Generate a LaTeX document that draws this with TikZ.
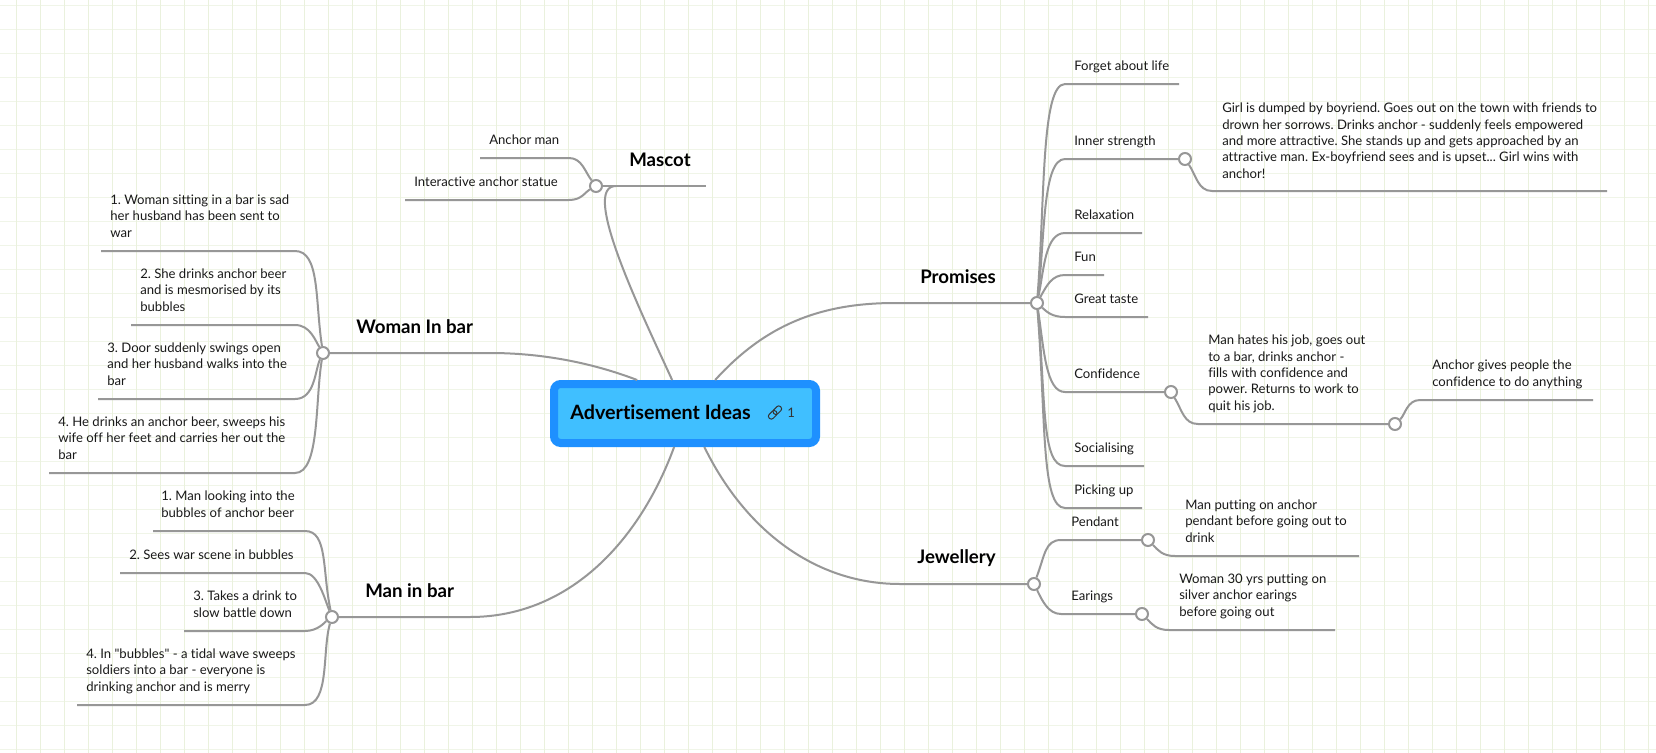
\documentclass[tikz,border=0pt]{standalone}
\usepackage{fontspec}
\setmainfont{Lato}[Ligatures={TeXOff,NoCommon}]
\frenchspacing
\definecolor{gridv}{HTML}{EAF1DD}
\definecolor{gridh}{HTML}{F0F5E8}
\definecolor{branchgray}{HTML}{979797}
\definecolor{centerblue}{HTML}{1E90FF}
\definecolor{centerfill}{HTML}{40BFFF}
\tikzset{
	branch/.style={draw=branchgray,line width=1.5pt},
	joint/.style={circle,draw=branchgray,fill=white,line width=1.5pt,inner sep=0pt,minimum size=9pt},
	leaf/.style={anchor=base west,inner sep=0pt,align=left,text=black!90,font=\fontsize{9.85pt}{12.2pt}\selectfont},
	topic/.style={anchor=base west,inner sep=0pt,text=black,font=\fontsize{14pt}{16pt}\selectfont\bfseries}
}
\begin{document}
\begin{tikzpicture}[x=0.75pt,y=-0.75pt]
\useasboundingbox (0,0) rectangle (1656,753);
\fill[white] (0,0) rectangle (1656,753);
\foreach \i in {0,...,31}{
	\draw[gridh,line width=0.75pt] (0,5.3+24*\i) -- (1656,5.3+24*\i);
	}
\foreach \i in {0,...,68}{
	\draw[gridv,line width=0.75pt] (16.5+24*\i,0) -- (16.5+24*\i,753);
	}

\node[rectangle,draw=centerblue,fill=centerfill,line width=6pt,rounded corners=5pt,minimum width=196.5pt,minimum height=44.25pt] (center) at (685,413.5) {};
\node[topic,font=\fontsize{14.8pt}{16pt}\selectfont\bfseries] (centertext) at (570,419) {Advertisement Ideas};
\node[leaf,text=black!80] (linknum) at (787,417) {1};
\begin{scope}[shift={(775,412.5)},rotate=45,black!80,line width=0.75pt,rounded corners=1.8pt]
\draw (-8,-2.8) rectangle (1.5,2.8);
\draw (-1.5,-2.8) rectangle (8,2.8);
\end{scope}

% joints
\node[joint] (mas) at (596,186) {};
\node[joint] (wo) at (323,353) {};
\node[joint] (man) at (332,617) {};
\node[joint] (pro) at (1037,303) {};
\node[joint] (jew) at (1034,584) {};
\node[joint] (inner) at (1185,159) {};
\node[joint] (conf) at (1171,392) {};
\node[joint] (hates) at (1395,424) {};
\node[joint] (pend) at (1148,540) {};
\node[joint] (ear) at (1142,614) {};

% main branches
\coordinate (masend) at (706,186);
\draw[branch] (center.111) .. controls (640,310) and (580,186) .. (616,186);
\draw[branch] (mas) -- (masend);
\draw[branch] (center.145) .. controls (590,362) and (540,353) .. (490,353) -- (wo);
\draw[branch] (center.252) .. controls (640,540) and (570,617) .. (470,617) -- (man);
\draw[branch] (center.48) .. controls (765,325) and (820,303) .. (895,303) -- (pro);
\draw[branch] (center.300) .. controls (745,530) and (815,584) .. (900,584) -- (jew);
\node[topic] (mascot) at (629,166) {Mascot};
\node[topic] (woman) at (356,333) {Woman In bar};
\node[topic] (manbar) at (365,597) {Man in bar};
\node[topic] (promises) at (920,283) {Promises};
\node[topic] (jewellery) at (917,563) {Jewellery};

% mascot
\node[leaf] (anchorman) at (489,144) {Anchor man};
\coordinate (anchormanend) at (480,158);
\draw[branch] (mas) .. controls (585,172) and (582,158) .. (569,158) -- (anchormanend);
\node[leaf] (statue) at (414,186) {Interactive anchor statue};
\coordinate (statueend) at (405,200);
\draw[branch] (mas) .. controls (585,192) and (582,200) .. (569,200) -- (statueend);

% woman in bar
\node[leaf] (wo1) at (110,237) {1. Woman sitting in a bar is sad\\her husband has been sent to\\war};
\coordinate (wo1end) at (101,251);
\draw[branch] (wo) .. controls (315,300) and (320,251) .. (295,251) -- (wo1end);
\node[leaf] (wo2) at (140,311) {2. She drinks anchor beer\\and is mesmorised by its\\bubbles};
\coordinate (wo2end) at (131,325);
\draw[branch] (wo) .. controls (315,340) and (310,325) .. (295,325) -- (wo2end);
\node[leaf] (wo3) at (107,385) {3. Door suddenly swings open\\and her husband walks into the\\bar};
\coordinate (wo3end) at (98,399);
\draw[branch] (wo) .. controls (315,370) and (315,399) .. (295,399) -- (wo3end);
\node[leaf] (wo4) at (58,459) {4. He drinks an anchor beer, sweeps his\\wife off her feet and carries her out the\\bar};
\coordinate (wo4end) at (49,473);
\draw[branch] (wo) .. controls (315,400) and (320,473) .. (295,473) -- (wo4end);

% man in bar
\node[leaf] (man1) at (161,517) {1. Man looking into the\\bubbles of anchor beer};
\coordinate (man1end) at (153,531);
\draw[branch] (man) .. controls (322,570) and (328,531) .. (305,531) -- (man1end);
\node[leaf] (man2) at (129,559) {2. Sees war scene in bubbles};
\coordinate (man2end) at (120,573);
\draw[branch] (man) .. controls (325,600) and (318,573) .. (305,573) -- (man2end);
\node[leaf] (man3) at (193,617) {3. Takes a drink to\\slow battle down};
\coordinate (man3end) at (184,631);
\draw[branch] (man) .. controls (325,622) and (318,631) .. (305,631) -- (man3end);
\node[leaf] (man4) at (86,691) {4. In "bubbles" - a tidal wave sweeps\\soldiers into a bar - everyone is\\drinking anchor and is merry};
\coordinate (man4end) at (77,705);
\draw[branch] (man) .. controls (322,650) and (330,705) .. (305,705) -- (man4end);

% promises
\node[leaf] (forget) at (1074,70) {Forget about life};
\coordinate (forgetend) at (1179,84);
\draw[branch] (pro) .. controls (1045,200) and (1041,84) .. (1065,84) -- (forgetend);
\node[leaf] (strength) at (1074,145) {Inner strength};
\draw[branch] (pro) .. controls (1045,240) and (1042,159) .. (1065,159) -- (inner);
\node[leaf] (girl) at (1222,178) {Girl is dumped by boyriend. Goes out on the town with friends to\\drown her sorrows. Drinks anchor - suddenly feels empowered\\and more attractive. She stands up and gets approached by an\\attractive man. Ex-boyfriend sees and is upset... Girl wins with\\anchor!};
\coordinate (girlend) at (1607,191);
\draw[branch] (inner) .. controls (1196,175) and (1198,191) .. (1212,191) -- (girlend);
\node[leaf] (relax) at (1074,219) {Relaxation};
\coordinate (relaxend) at (1142,233);
\draw[branch] (pro) .. controls (1044,270) and (1045,233) .. (1065,233) -- (relaxend);
\node[leaf] (fun) at (1074,261) {Fun};
\coordinate (funend) at (1104,275);
\draw[branch] (pro) .. controls (1047,285) and (1052,275) .. (1065,275) -- (funend);
\node[leaf] (taste) at (1074,303) {Great taste};
\coordinate (tasteend) at (1148,317);
\draw[branch] (pro) .. controls (1047,312) and (1052,317) .. (1065,317) -- (tasteend);
\node[leaf] (confidence) at (1074,378) {Confidence};
\draw[branch] (pro) .. controls (1044,350) and (1046,392) .. (1065,392) -- (conf);
\node[leaf] (hatestext) at (1208,410) {Man hates his job, goes out\\to a bar, drinks anchor -\\fills with confidence and\\power. Returns to work to\\quit his job.};
\draw[branch] (conf) .. controls (1182,410) and (1184,424) .. (1198,424) -- (hates);
\node[leaf] (gives) at (1432,386) {Anchor gives people the\\confidence to do anything};
\coordinate (givesend) at (1593,400);
\draw[branch] (hates) .. controls (1405,415) and (1407,400) .. (1420,400) -- (givesend);
\node[leaf] (social) at (1074,452) {Socialising};
\coordinate (socialend) at (1144,466);
\draw[branch] (pro) .. controls (1046,400) and (1041,466) .. (1065,466) -- (socialend);
\node[leaf] (picking) at (1074,494) {Picking up};
\coordinate (pickingend) at (1142,508);
\draw[branch] (pro) .. controls (1046,420) and (1041,508) .. (1065,508) -- (pickingend);

% jewellery
\node[leaf] (pendant) at (1071,526) {Pendant};
\draw[branch] (jew) .. controls (1045,555) and (1045,540) .. (1061,540) -- (pend);
\node[leaf] (puton) at (1185,542) {Man putting on anchor\\pendant before going out to\\drink};
\coordinate (putonend) at (1359,556);
\draw[branch] (pend) .. controls (1158,550) and (1162,556) .. (1175,556) -- (putonend);
\node[leaf] (earings) at (1071,600) {Earings};
\draw[branch] (jew) .. controls (1042,600) and (1048,614) .. (1061,614) -- (ear);
\node[leaf] (silver) at (1179,616) {Woman 30 yrs putting on\\silver anchor earings\\before going out};
\coordinate (silverend) at (1335,630);
\draw[branch] (ear) .. controls (1152,624) and (1156,630) .. (1169,630) -- (silverend);
\end{tikzpicture}
\end{document}
